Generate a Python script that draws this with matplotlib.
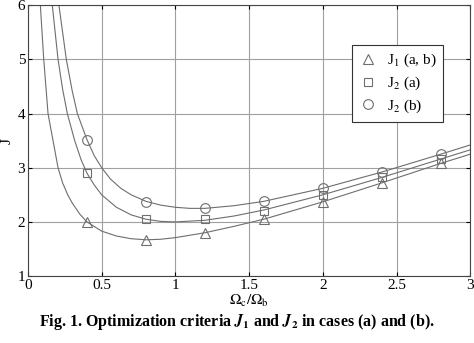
import matplotlib
matplotlib.use("Agg")
import matplotlib.pyplot as plt

plt.rcParams['font.family'] = ['Liberation Serif', 'DejaVu Serif']
plt.rcParams['mathtext.fontset'] = 'stix'

# curves
j1_x = [0.084, 0.107, 0.136, 0.17, 0.204, 0.235, 0.27, 0.3, 0.35, 0.4, 0.5, 0.6, 0.7, 0.8, 0.9, 1.0, 1.2, 1.4, 1.6, 2.0, 2.4, 2.8, 3.0]
j1_y = [6.0, 5.0, 4.0, 3.5, 3.0, 2.72, 2.5, 2.35, 2.15, 2.0, 1.83, 1.74, 1.69, 1.67, 1.68, 1.71, 1.8, 1.92, 2.05, 2.37, 2.72, 3.08, 3.25]

j2a_x = [0.165, 0.204, 0.235, 0.267, 0.317, 0.36, 0.4, 0.45, 0.5, 0.6, 0.7, 0.8, 0.9, 1.0, 1.2, 1.4, 1.6, 2.0, 2.4, 2.8, 3.0]
j2a_y = [6.0, 5.0, 4.45, 4.0, 3.5, 3.15, 2.9, 2.68, 2.5, 2.27, 2.13, 2.05, 2.01, 2.0, 2.03, 2.11, 2.22, 2.5, 2.82, 3.16, 3.33]

j2b_x = [0.21, 0.26, 0.3, 0.335, 0.37, 0.4, 0.45, 0.5, 0.56, 0.63, 0.7, 0.8, 0.9, 1.0, 1.1, 1.2, 1.4, 1.6, 2.0, 2.4, 2.8, 3.0]
j2b_y = [6.0, 5.0, 4.42, 4.0, 3.74, 3.52, 3.22, 3.0, 2.79, 2.62, 2.5, 2.38, 2.31, 2.27, 2.25, 2.25, 2.3, 2.38, 2.62, 2.92, 3.25, 3.42]

# marker points
mx = [0.4, 0.8, 1.2, 1.6, 2.0, 2.4, 2.8]
m_j1 = [2.0, 1.67, 1.8, 2.05, 2.37, 2.72, 3.08]
m_j2a = [2.9, 2.05, 2.05, 2.2, 2.5, 2.83, 3.17]
m_j2b = [3.52, 2.37, 2.25, 2.38, 2.62, 2.92, 3.25]

labels = ['J$_1$ (a, b)', 'J$_2$ (a)', 'J$_2$ (b)']

fig = plt.figure(figsize=(4.74, 3.43), dpi=100)
ax = fig.add_axes([0.059, 0.195, 0.933, 0.79])

lc = '#6e6e6e'
for x, y in [(j1_x, j1_y), (j2a_x, j2a_y), (j2b_x, j2b_y)]:
    ax.plot(x, y, color=lc, lw=0.8)

mk = dict(linestyle='none', mfc='none', mec='#6e6e6e', mew=0.8)
ax.plot(mx, m_j1, marker='^', ms=7, label=labels[0], **mk)
ax.plot(mx, m_j2a, marker='s', ms=6, label=labels[1], **mk)
ax.plot(mx, m_j2b, marker='o', ms=7, label=labels[2], **mk)

ax.set_xlim(0, 3)
ax.set_ylim(1, 6)
ax.set_xticks([0, 0.5, 1, 1.5, 2, 2.5, 3])
ax.set_xticklabels(['0', '0.5', '1', '1.5', '2', '2.5', '3'])
ax.set_yticks([1, 2, 3, 4, 5, 6])
ax.grid(True, color='#a0a0a0', lw=0.8)
ax.tick_params(direction='in', length=3, top=True, right=True, labelsize=11, pad=2)
for s in ax.spines.values():
    s.set_color('#444444')
    s.set_linewidth(0.8)

ax.set_xlabel(r'$\Omega_{\mathrm{c}}/\Omega_{\mathrm{b}}$', fontsize=11, labelpad=1)
ax.set_ylabel('J', fontsize=11)
ax.yaxis.set_label_coords(-0.032, 0.5)

leg = ax.legend(loc='upper left', bbox_to_anchor=(0.733, 0.852), borderaxespad=0,
                fancybox=False, framealpha=1, edgecolor='#333333', fontsize=11,
                handletextpad=0.6, handlelength=1.2, labelspacing=0.35, borderpad=0.45)
leg.get_frame().set_linewidth(0.8)

fig.text(0.5, 0.06, r'Fig. 1. Optimization criteria $\mathbfit{J}_{\mathbf{1}}$ and $\mathbfit{J}_{\mathbf{2}}$ in cases (a) and (b).',
         ha='center', va='center', fontsize=11.5, fontweight='bold')

fig.savefig('out.png', dpi=100)
